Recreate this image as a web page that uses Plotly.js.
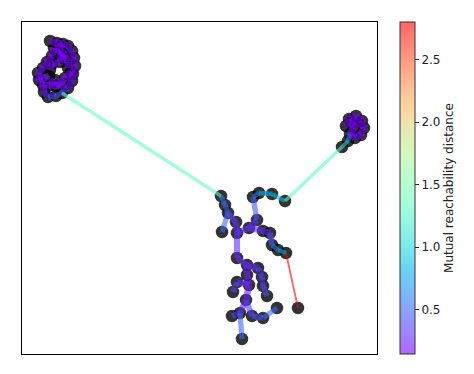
<!DOCTYPE html>
<html>
<head>
<meta charset="utf-8">
<script src="https://cdn.plot.ly/plotly-3.0.1.min.js"></script>
<style>html,body{margin:0;padding:0;background:#fff;}#chart{width:474px;height:374px;}</style>
</head>
<body>
<div id="chart"></div>
<script>
// Node positions (projection units, y grows downward in this projection)
const nodeX = [
  // left cluster L0..L37
  62,56,48,44,68,72,73,75,74,72,68,63,57,50,54,60,65,68,52,47,43,38,39,43,50,56,66,71,60,52,49,58,64,68,65,55,50,60,
  // right cluster R0..R12
  342,348,350,346,349,356,362,364,361,355,354,358,351,
  // central cluster C0..C34
  221,225,228,222,236,237,249,257,253,259,272,285,263,270,272,278,286,298,237,247,258,262,237,233,249,263,267,246,240,232,252,263,277,242,247
];
const nodeY = [
  93,96,97,92,88,81,74,66,58,51,46,44,43,41,48,50,55,62,56,62,68,73,80,85,85,86,84,72,62,64,76,54,58,68,78,80,70,47,
  147,141,134,126,119,116,121,128,135,138,127,123,122,
  196,205,213,232,222,233,228,220,197,193,194,201,231,233,245,250,253,308,258,265,268,277,282,292,285,286,296,300,313,316,316,318,308,339,275
];
const L = 0, R = 38, C = 51;
// MST edges: from index, to index, mutual reachability distance
const edgeFrom = [
  L+13,L+12,L+11,L+10,L+9,L+8,L+7,L+6,L+5,L+4,L+0,L+1,L+2,L+3,L+23,L+22,L+21,L+20,L+19,L+18,L+14,L+15,L+16,L+28,L+29,L+24,L+25,L+26,L+27,L+30,
  L+31,L+32,L+33,L+34,L+35,L+36,L+37,L+34,
  R+0,R+1,R+2,R+9,R+8,R+7,R+6,R+5,R+4,R+10,R+11,R+12,
  C+0,C+1,C+2,C+2,C+4,C+5,C+6,C+7,C+8,C+9,C+10,C+6,C+12,C+13,C+14,C+15,C+16,C+5,C+18,C+19,C+20,C+21,C+25,C+19,C+34,C+24,C+22,C+24,C+27,C+28,C+27,C+30,C+31,C+28,
  C+0,C+11
];
const edgeTo = [
  L+12,L+11,L+10,L+9,L+8,L+7,L+6,L+5,L+4,L+0,L+1,L+2,L+3,L+23,L+22,L+21,L+20,L+19,L+18,L+14,L+15,L+16,L+17,L+16,L+28,L+23,L+24,L+25,L+6,L+22,
  L+15,L+31,L+17,L+27,L+24,L+29,L+11,L+25,
  R+1,R+2,R+9,R+8,R+7,R+6,R+5,R+4,R+3,R+2,R+10,R+10,
  C+1,C+2,C+4,C+3,C+5,C+6,C+7,C+8,C+9,C+10,C+11,C+12,C+13,C+14,C+15,C+16,C+17,C+18,C+19,C+20,C+21,C+25,C+26,C+34,C+24,C+22,C+23,C+27,C+28,C+29,C+30,C+31,C+32,C+33,
  L+0,R+0
];
const edgeWeight = [
  0.18,0.17,0.18,0.2,0.19,0.18,0.17,0.18,0.2,0.3,0.45,0.35,0.3,0.2,0.18,0.2,0.2,0.18,0.17,0.18,0.16,0.17,0.18,0.17,0.2,0.2,0.19,0.2,0.18,0.2,
  0.16,0.16,0.17,0.18,0.18,0.18,0.17,0.18,
  1.0,0.6,0.22,0.18,0.17,0.17,0.18,0.17,0.18,0.16,0.15,0.16,
  0.6,0.5,0.35,0.5,0.3,0.3,0.3,0.45,0.6,0.8,0.85,0.3,0.3,0.4,0.6,0.8,2.8,0.3,0.3,0.3,0.35,0.35,0.4,0.25,0.25,0.3,0.35,0.25,0.3,0.35,0.35,0.4,0.5,0.5,
  1.35,1.3
];
const cMin = 0.145, cMax = 2.8;
const cbTicks = [0.5, 1.0, 1.5, 2.0, 2.5];

// matplotlib "rainbow" colormap
function rainbow(t) {
  t = Math.max(0, Math.min(1, t));
  const r = Math.min(1, Math.abs(2 * t - 0.5));
  const g = Math.sin(Math.PI * t);
  const b = Math.cos(Math.PI * t / 2);
  return [r * 255, g * 255, b * 255];
}
const alpha = 0.6;
function edgeColor(w) {
  const c = rainbow((w - cMin) / (cMax - cMin));
  return `rgba(${c[0].toFixed(0)},${c[1].toFixed(0)},${c[2].toFixed(0)},${alpha})`;
}
function blended(t) {
  const c = rainbow(t);
  return `rgb(${c.map(v => (v * alpha + 255 * (1 - alpha)).toFixed(0)).join(',')})`;
}
const colorscale = [];
for (let i = 0; i <= 20; i++) colorscale.push([i / 20, blended(i / 20)]);

const maxW = Math.max(...edgeWeight);
const traces = [];
traces.push({
  type: 'scatter', mode: 'markers', x: nodeX, y: nodeY, hoverinfo: 'skip',
  marker: {size: 12.5, color: 'rgba(0,0,0,0.8)', line: {width: 0}}
});
for (let i = 0; i < edgeFrom.length; i++) {
  const a = edgeFrom[i], b = edgeTo[i], w = edgeWeight[i];
  traces.push({
    type: 'scatter', mode: 'lines', hoverinfo: 'skip',
    x: [nodeX[a], nodeX[b]], y: [nodeY[a], nodeY[b]],
    line: {color: edgeColor(w), width: 1.9 * (Math.log(maxW / w) + 1)}
  });
}
traces.push({
  type: 'scatter', mode: 'markers', x: [nodeX[0], nodeX[0]], y: [nodeY[0], nodeY[0]], hoverinfo: 'skip',
  marker: {
    size: 1, opacity: 0, color: [cMin, cMax], cmin: cMin, cmax: cMax, colorscale: colorscale, showscale: true,
    colorbar: {
      x: 1.0648, xanchor: 'left', xpad: 0, y: 0.5, yanchor: 'middle', len: 1, ypad: 0,
      thickness: 15, outlinewidth: 1, outlinecolor: '#333',
      tickvals: cbTicks, ticktext: cbTicks.map(v => v.toFixed(1)),
      ticks: 'outside', ticklen: 4, tickcolor: '#222',
      tickfont: {family: 'DejaVu Sans', size: 12, color: '#222'},
      title: {text: 'Mutual reachability distance', side: 'right', font: {family: 'DejaVu Sans', size: 12, color: '#222'}}
    }
  }
});

const layout = {
  width: 474, height: 374,
  margin: {l: 22, r: 97, t: 22, b: 20, pad: 0},
  showlegend: false,
  paper_bgcolor: '#fff', plot_bgcolor: '#fff',
  xaxis: {range: [22, 377], showgrid: false, zeroline: false, showticklabels: false, ticks: '',
          showline: true, mirror: true, linecolor: '#000', linewidth: 1},
  yaxis: {range: [354, 22], showgrid: false, zeroline: false, showticklabels: false, ticks: '',
          showline: true, mirror: true, linecolor: '#000', linewidth: 1}
};
Plotly.newPlot('chart', traces, layout, {displayModeBar: false, staticPlot: true});
</script>
</body>
</html>
